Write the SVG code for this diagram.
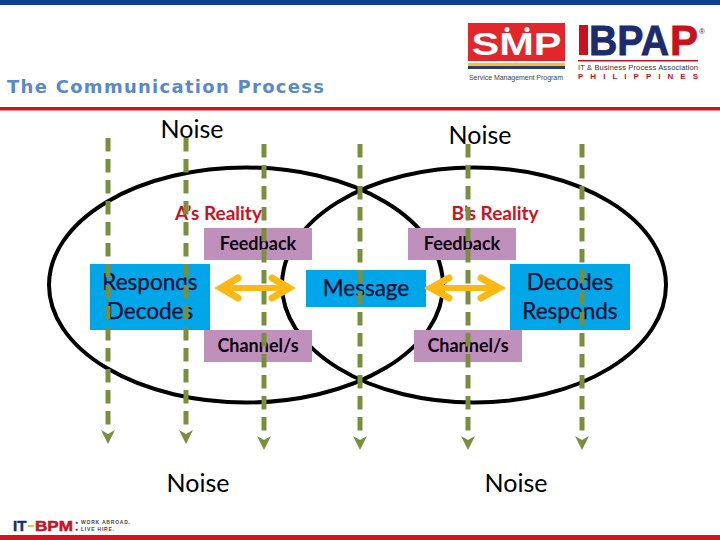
<svg xmlns="http://www.w3.org/2000/svg" width="720" height="540" viewBox="0 0 720 540">
<style>
text{font-family:Lato,"Noto Sans",sans-serif;fill:#000}
.n{font-size:25px;text-anchor:middle}
.l{font-size:22.500px;text-anchor:middle;fill:#000d30;stroke:#000d30;stroke-width:.25}
.b{font-size:18px;text-anchor:middle;font-weight:700;fill:#100010}
.r{font-size:19px;text-anchor:middle;font-weight:700;fill:#d01020}
.pk{fill:#c090bc}.bl{fill:#00a6e8}
.e{fill:none;stroke:#000;stroke-width:4}
.d{stroke:#7a8f3e;stroke-width:5;stroke-dasharray:13.500 7.500;fill:none;marker-end:url(#g)}
.y{stroke:#fdb913;stroke-width:6;fill:none}
.yh{stroke:#fdb913;stroke-width:7;fill:none;stroke-linecap:round;stroke-linejoin:miter}
.sf{font-family:"Liberation Sans",sans-serif}
</style>
<defs>
<marker id="g" markerUnits="userSpaceOnUse" markerWidth="16" markerHeight="16" refX="0" refY="8" orient="auto" viewBox="0 0 16 16"><path d="M0 1 L4 8 L0 15 L14 8 Z" fill="#7a8f3e"/></marker>
</defs>
<rect width="720" height="540" fill="#fff"/>
<rect id="top-bar" width="720" height="5" fill="#0a3f94"/>
<rect id="header-line" y="107" width="720" height="3.500" fill="#d5121e"/>
<rect id="footer-line" y="535" width="720" height="5" fill="#d5121e"/>
<g id="logo-smp">
<rect x="468" y="23" width="97" height="38" fill="#e3262b"/>
<circle cx="507" cy="29.500" r="2.500" fill="#fff"/><circle cx="527" cy="29.500" r="2.500" fill="#fff"/>
<text class="sf" x="516.500" y="55" style="font-size:31px;fill:#fff;font-weight:700;text-anchor:middle" textLength="90" lengthAdjust="spacingAndGlyphs">SMP</text>
<rect x="468" y="63" width="97" height="3" fill="#f2c230"/>
<rect x="468" y="66" width="97" height="3" fill="#2c3a75"/>
<text class="sf" x="516" y="80" style="font-size:7px;fill:#444;text-anchor:middle" textLength="94">Service Management Program</text>
</g>
<g id="logo-ibpap">
<rect x="579" y="25" width="9" height="30" fill="#c8101e"/>
<text class="sf" x="589" y="55" style="font-size:42px;font-weight:700;fill:#1c2a6e;stroke:#1c2a6e;stroke-width:.8" textLength="80" lengthAdjust="spacingAndGlyphs">BPA</text>
<text class="sf" x="670" y="55" style="font-size:42px;font-weight:700;fill:#c8101e;stroke:#c8101e;stroke-width:.8">P</text>
<text class="sf" x="699" y="34" style="font-size:8px;fill:#1c2a6e">®</text>
<rect x="578" y="60" width="120" height="1.500" fill="#c8101e"/>
<text class="sf" x="578" y="70" style="font-size:7.500px;fill:#333" textLength="120">IT &amp; Business Process Association</text>
<text class="sf" x="578" y="79" style="font-size:8px;font-weight:700;fill:#c8101e" textLength="120">PHILIPPINES</text>
</g>
<g id="title"><text x="7" y="93" style="font-family:'DejaVu Sans',sans-serif;font-size:18px;font-weight:700;fill:#5a8ac6" textLength="317">The Communication Process</text></g>
<g id="logo-itbpm">
<text class="sf" x="13" y="531" style="font-size:15px;font-weight:700;fill:#1c2a6e;stroke:#1c2a6e;stroke-width:.5">IT</text>
<rect x="28" y="525" width="6" height="2" fill="#f2c230"/>
<text class="sf" x="35" y="531" style="font-size:15px;font-weight:700;fill:#c8101e;stroke:#c8101e;stroke-width:.5" textLength="38" lengthAdjust="spacingAndGlyphs">BPM</text>
<text class="sf" x="75" y="524" style="font-size:5px;font-weight:700;fill:#444" textLength="55">● WORK ABROAD.</text>
<text class="sf" x="75" y="531" style="font-size:5px;font-weight:700;fill:#444" textLength="39">● LIVE HIRE.</text>
</g>
<g id="reality-a"><ellipse class="e" cx="246" cy="285" rx="197" ry="117.500"/></g>
<g id="reality-b"><ellipse class="e" cx="474" cy="285" rx="192" ry="117.500"/></g>
<g id="labels-reality">
<text class="r" x="218.500" y="220">A’s Reality</text>
<text class="r" x="495" y="220">B’s Reality</text>
</g>
<g id="feedback-a"><rect class="pk" x="204" y="228" width="108" height="32"/><text class="b" x="258" y="250">Feedback</text></g>
<g id="feedback-b"><rect class="pk" x="408" y="228" width="108" height="32"/><text class="b" x="462" y="250">Feedback</text></g>
<g id="channel-a"><rect class="pk" x="204" y="330" width="108" height="32"/><text class="b" x="258" y="352">Channel/s</text></g>
<g id="channel-b"><rect class="pk" x="414" y="330" width="108" height="32"/><text class="b" x="468" y="352">Channel/s</text></g>
<g id="sender"><rect class="bl" x="90" y="264" width="120" height="66"/><text class="l" x="150" y="290">Responds</text><text class="l" x="150" y="319">Decodes</text></g>
<g id="message"><rect class="bl" x="306" y="270" width="120" height="37"/><text class="l" x="366" y="296">Message</text></g>
<g id="receiver"><rect class="bl" x="510" y="264" width="120" height="66"/><text class="l" x="570" y="290">Decodes</text><text class="l" x="570" y="319">Responds</text></g>
<g id="connectors">
<path class="y" d="M222 288H288"/><path class="yh" d="M238 278L221 288L238 298M272 278L289 288L272 298"/>
<path class="y" d="M432 288H498"/><path class="yh" d="M449 278L431 288L449 298M481 278L499 288L481 298"/>
<path class="d" d="M108 138V430"/>
<path class="d" d="M186 138V430"/>
<path class="d" d="M264 144V436"/>
<path class="d" d="M360 144V436"/>
<path class="d" d="M468 144V436"/>
<path class="d" d="M582 144V436"/>
</g>
<g id="noise-1"><text class="n" x="192" y="138">Noise</text></g>
<g id="noise-2"><text class="n" x="480" y="144">Noise</text></g>
<g id="noise-3"><text class="n" x="198" y="492">Noise</text></g>
<g id="noise-4"><text class="n" x="516" y="492">Noise</text></g>
</svg>
